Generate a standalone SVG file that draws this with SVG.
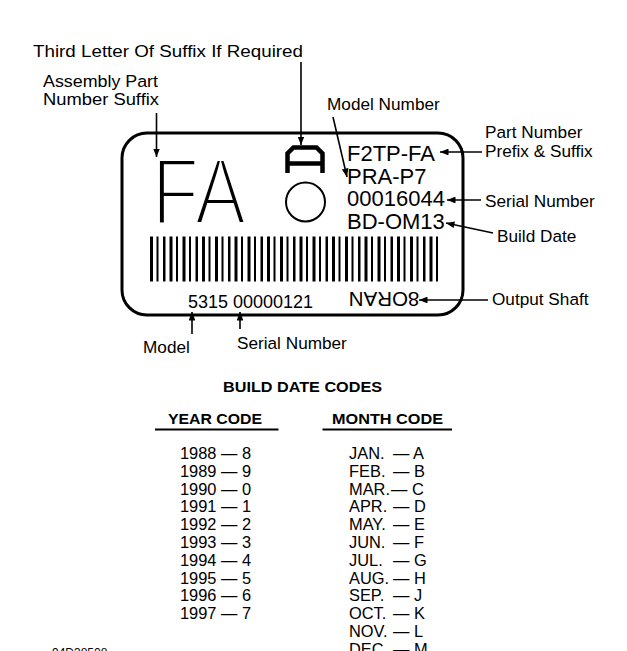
<svg xmlns="http://www.w3.org/2000/svg" width="627" height="651" viewBox="0 0 627 651">
<defs>
<marker id="ah" viewBox="0 0 10 8" refX="10" refY="4" markerWidth="8.5" markerHeight="6.8" markerUnits="userSpaceOnUse" orient="auto">
<path d="M0,0 L10,4 L0,8 z" fill="#000"/>
</marker>
</defs>
<style>
.t{font-family:"Liberation Sans",Arial,sans-serif;fill:#000}
.lbl{font-size:17.2px}
.code{font-size:22px}
.row{font-size:16.4px}
.hd{font-size:15px;font-weight:bold}
.ar{stroke:#000;stroke-width:1.6;fill:none;marker-end:url(#ah)}
</style>
<rect width="627" height="651" fill="#fff"/>

<g id="label-plate">
<rect x="122" y="133" width="341" height="182" rx="25" ry="25" fill="none" stroke="#000" stroke-width="3"/>
<text class="t" x="152" y="224" font-size="95" stroke="#fff" stroke-width="4" textLength="94" lengthAdjust="spacingAndGlyphs">FA</text>
<path d="M287.5,173 V153.5 L293.5,147.5 H316.5 L322.5,153.5 V173 M287.5,163.5 H322.5" fill="none" stroke="#000" stroke-width="4.5" stroke-linejoin="miter"/>
<circle cx="305.5" cy="202" r="19.5" fill="none" stroke="#000" stroke-width="2"/>
<text class="t code" x="347" y="160.5">F2TP-FA</text>
<text class="t code" x="347" y="183.5">PRA-P7</text>
<text class="t code" x="347" y="206">00016044</text>
<text class="t code" x="347" y="228.5">BD-OM13</text>
<line x1="150" y1="259" x2="438" y2="259" stroke="#000" stroke-width="45" stroke-dasharray="3 3.5 2 4.5 2.5 4 3 3.5 2 4.5"/>
<text class="t" x="188" y="308" font-size="18">5315 00000121</text>
<text class="t" x="384" y="307" font-size="20.5" text-anchor="middle" transform="rotate(180 384 299.5)">8ORAN</text>
</g>

<g id="labels">
<text class="t lbl" x="33" y="57" textLength="270" lengthAdjust="spacingAndGlyphs">Third Letter Of Suffix If Required</text>
<text class="t lbl" x="43" y="86.5" textLength="115" lengthAdjust="spacingAndGlyphs">Assembly Part</text>
<text class="t lbl" x="43" y="104.5" textLength="116" lengthAdjust="spacingAndGlyphs">Number Suffix</text>
<text class="t lbl" x="327" y="110">Model Number</text>
<text class="t lbl" x="485" y="138">Part Number</text>
<text class="t lbl" x="485" y="156.5">Prefix &amp; Suffix</text>
<text class="t lbl" x="485" y="206.5">Serial Number</text>
<text class="t lbl" x="497" y="242">Build Date</text>
<text class="t lbl" x="492" y="305">Output Shaft</text>
<text class="t lbl" x="143" y="353">Model</text>
<text class="t lbl" x="237" y="348.5">Serial Number</text>
</g>

<g id="connectors">
<line class="ar" x1="156.5" y1="113" x2="156.5" y2="157"/>
<line class="ar" x1="301" y1="62" x2="301" y2="145"/>
<line class="ar" x1="333" y1="117" x2="347" y2="177"/>
<line class="ar" x1="482" y1="152" x2="440" y2="152"/>
<line class="ar" x1="481" y1="200" x2="447" y2="200"/>
<line class="ar" x1="493" y1="233" x2="446" y2="223"/>
<line class="ar" x1="488" y1="300" x2="419" y2="300"/>
<line class="ar" x1="192" y1="334" x2="192" y2="312"/>
<line class="ar" x1="240" y1="329" x2="240" y2="312"/>
</g>

<g id="build-date-codes">
<text class="t hd" x="223" y="391.5" textLength="159" lengthAdjust="spacingAndGlyphs">BUILD DATE CODES</text>
<text class="t hd" x="168" y="423.5" textLength="94" lengthAdjust="spacingAndGlyphs">YEAR CODE</text>
<text class="t hd" x="332" y="423.5" textLength="111" lengthAdjust="spacingAndGlyphs">MONTH CODE</text>
<line x1="155" y1="429.5" x2="278.5" y2="429.5" stroke="#000" stroke-width="2"/>
<line x1="322.5" y1="429.5" x2="452" y2="429.5" stroke="#000" stroke-width="2"/>
</g>

<g id="year-codes">
<text class="t row" x="180" y="459">1988 — 8</text>
<text class="t row" x="180" y="476.8">1989 — 9</text>
<text class="t row" x="180" y="494.6">1990 — 0</text>
<text class="t row" x="180" y="512.4">1991 — 1</text>
<text class="t row" x="180" y="530.2">1992 — 2</text>
<text class="t row" x="180" y="548">1993 — 3</text>
<text class="t row" x="180" y="565.8">1994 — 4</text>
<text class="t row" x="180" y="583.6">1995 — 5</text>
<text class="t row" x="180" y="601.4">1996 — 6</text>
<text class="t row" x="180" y="619.2">1997 — 7</text>
</g>

<g id="month-codes">
<text class="t row" x="349" y="459">JAN. <tspan x="393">— A</tspan></text>
<text class="t row" x="349" y="476.8">FEB. <tspan x="393">— B</tspan></text>
<text class="t row" x="349" y="494.6">MAR.<tspan x="391">— C</tspan></text>
<text class="t row" x="349" y="512.4">APR. <tspan x="393">— D</tspan></text>
<text class="t row" x="349" y="530.2">MAY. <tspan x="393">— E</tspan></text>
<text class="t row" x="349" y="548">JUN. <tspan x="393">— F</tspan></text>
<text class="t row" x="349" y="565.8">JUL. <tspan x="393">— G</tspan></text>
<text class="t row" x="349" y="583.6">AUG. <tspan x="393">— H</tspan></text>
<text class="t row" x="349" y="601.4">SEP. <tspan x="393">— J</tspan></text>
<text class="t row" x="349" y="619.2">OCT. <tspan x="393">— K</tspan></text>
<text class="t row" x="349" y="637">NOV. <tspan x="393">— L</tspan></text>
<text class="t row" x="349" y="654.8">DEC. <tspan x="393">— M</tspan></text>
</g>

<text class="t" x="52" y="657" font-size="12">94D38508</text>
</svg>
